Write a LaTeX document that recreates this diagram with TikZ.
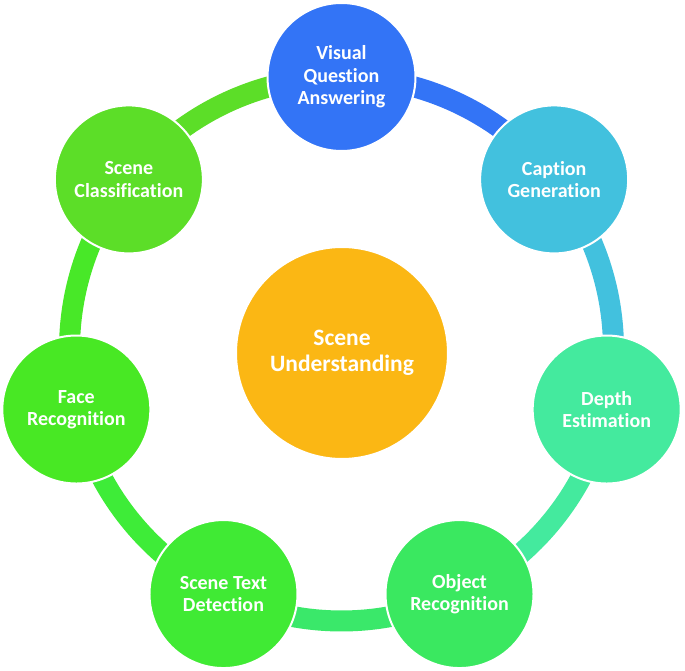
\documentclass[tikz,border=0pt]{standalone}
\usepackage{fontspec}
\setmainfont[Ligatures=NoCommon]{Carlito}
\definecolor{cvqa}{RGB}{51,116,246}
\definecolor{ccap}{RGB}{66,193,222}
\definecolor{cdep}{RGB}{68,234,158}
\definecolor{cobj}{RGB}{58,232,96}
\definecolor{cstd}{RGB}{64,234,52}
\definecolor{cface}{RGB}{72,232,36}
\definecolor{csc}{RGB}{92,222,40}
\definecolor{ccen}{RGB}{251,183,20}
\definecolor{sobj}{RGB}{58,232,106}
\definecolor{sstd}{RGB}{62,236,56}
\definecolor{sface}{RGB}{72,232,40}
\begin{document}
\begin{tikzpicture}[x=1pt,y=1pt,
  task/.style={circle,draw=white,line width=2pt,minimum size=148pt,inner sep=0pt,
    text=white,font=\fontsize{20}{22.5}\selectfont\bfseries,align=center},
  core/.style={circle,draw=white,line width=2pt,minimum size=212pt,inner sep=0pt,
    fill=ccen,text=white,font=\fontsize{23.5}{26.5}\selectfont\bfseries,align=center},
  ring/.style={line width=21pt}]
\useasboundingbox (0,0) rectangle (685,670);
\coordinate (O) at (341.5,321);
\def\R{272}
\path (O) ++(90:\R) coordinate (q0)
      (O) ++(38.571:\R) coordinate (q1)
      (O) ++(-12.857:\R) coordinate (q2)
      (O) ++(-64.286:\R) coordinate (q3)
      (O) ++(-115.714:\R) coordinate (q4)
      (O) ++(-167.143:\R) coordinate (q5)
      (O) ++(141.429:\R) coordinate (q6);
% ring segments
\draw[ring,csc] (q6) arc[start angle=141.429,end angle=90,radius=\R];
\draw[ring,cvqa] (q0) arc[start angle=90,end angle=38.571,radius=\R];
\draw[ring,ccap] (q1) arc[start angle=38.571,end angle=-12.857,radius=\R];
\draw[ring,cdep] (q2) arc[start angle=-12.857,end angle=-64.286,radius=\R];
\draw[ring,sobj] (q3) arc[start angle=-64.286,end angle=-115.714,radius=\R];
\draw[ring,sstd] (q4) arc[start angle=-115.714,end angle=-167.143,radius=\R];
\draw[ring,sface] (q5) arc[start angle=-167.143,end angle=-218.571,radius=\R];
% nodes
\node[task,fill=cvqa] (vqa) at (q0) {Visual\\Question\\Answering};
\node[task,fill=ccap] (cap) at (q1) {Caption\\Generation};
\node[task,fill=cdep] (dep) at (q2) {Depth\\Estimation};
\node[task,fill=cobj] (obj) at (q3) {Object\\Recognition};
\node[task,fill=cstd] (std) at (q4) {Scene Text\\Detection};
\node[task,fill=cface] (face) at (q5) {Face\\Recognition};
\node[task,fill=csc] (sc) at (q6) {Scene\\Classification};
\node[core] (cen) at (342,317) {Scene\\Understanding};
\end{tikzpicture}
\end{document}
